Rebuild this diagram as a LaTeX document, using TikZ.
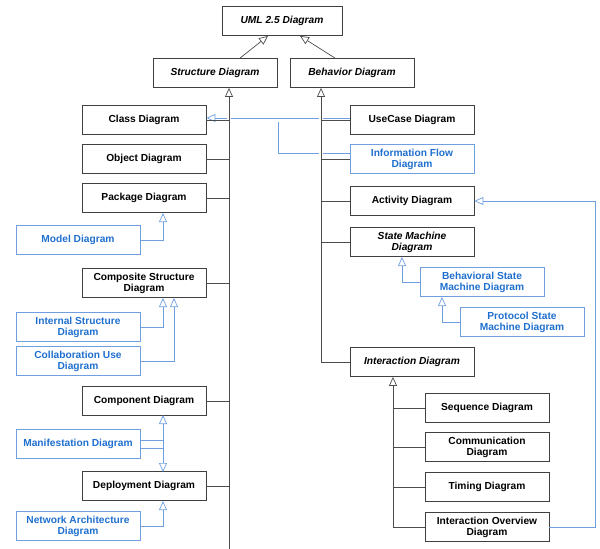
\documentclass[tikz,border=0pt]{standalone}
\usepackage{fontspec}
\setmainfont{Liberation Sans}
\usetikzlibrary{arrows.meta}
\definecolor{ublue}{HTML}{1F6FCF}
\definecolor{lblue}{HTML}{6F9FE0}
\begin{document}
\begin{tikzpicture}[x=1pt,y=-1pt,
  box/.style={draw=black!75,line width=0.8pt,minimum width=124pt,minimum height=29pt,align=center,font=\bfseries\fontsize{10.2}{11.2}\selectfont,inner sep=1pt},
  bbox/.style={box,draw=lblue,text=ublue},
  ibox/.style={box,font=\bfseries\itshape\fontsize{10.2}{11.2}\selectfont},
  gen/.style={-{Triangle[open,width=8pt,length=9pt]}},
  ln/.style={draw=black!70,line width=0.7pt},
  bl/.style={draw=lblue,line width=0.7pt}]
\useasboundingbox (0,0) rectangle (600,549);
\node[ibox,minimum width=120pt] (uml) at (282,21) {UML 2.5 Diagram};
\node[ibox] (str) at (215,73) {Structure Diagram};
\node[ibox] (beh) at (352,73) {Behavior Diagram};
\node[box] (cls) at (144,120) {Class Diagram};
\node[box] (obj) at (144,159) {Object Diagram};
\node[box] (pkg) at (144,198) {Package Diagram};
\node[bbox] (mod) at (78,240) {Model Diagram};
\node[box] (cmp) at (144,283) {Composite Structure\\Diagram};
\node[bbox] (int) at (78,327) {Internal Structure\\Diagram};
\node[bbox] (col) at (78,361) {Collaboration Use\\Diagram};
\node[box] (com) at (144,401) {Component Diagram};
\node[bbox] (man) at (78,444) {Manifestation Diagram};
\node[box] (dep) at (144,486) {Deployment Diagram};
\node[bbox] (net) at (78,526) {Network Architecture\\Diagram};
\node[box] (use) at (412,120) {UseCase Diagram};
\node[bbox] (inf) at (412,159) {Information Flow\\Diagram};
\node[box] (act) at (412,201) {Activity Diagram};
\node[ibox] (stm) at (412,242) {State Machine\\Diagram};
\node[bbox] (bsm) at (482,282) {Behavioral State\\Machine Diagram};
\node[bbox] (psm) at (522,322) {Protocol State\\Machine Diagram};
\node[ibox] (ina) at (412,362) {Interaction Diagram};
\node[box] (seq) at (487,408) {Sequence Diagram};
\node[box] (cmm) at (487,447) {Communication\\Diagram};
\node[box] (tim) at (487,487) {Timing Diagram};
\node[box] (iov) at (487,527) {Interaction Overview\\Diagram};
\coordinate (sb) at (229,549);
\coordinate (bb) at (321,362);
\coordinate (ib) at (393,527);
\coordinate (rr) at (595,527);
% blue relations (under black lines)
\draw[bl,gen] ([yshift=2pt]use.west) -- ([yshift=2pt]use.west -| cls.east);
\coordinate (j) at (278,122);
\draw[bl] (j) |- ([yshift=6pt]inf.west);
% generalizations to top
\draw[ln,gen] ([xshift=25pt]str.north) -- ([xshift=-14pt]uml.south);
\draw[ln,gen] ([xshift=-17pt]beh.north) -- ([xshift=18pt]uml.south);
% structure trunk
\draw[ln,gen,preaction={draw=white,line width=4pt,-}] (sb) -- (sb |- str.south);
\foreach \n in {cls,obj,pkg,cmp,com,dep} \draw[ln] (\n.east) -- (\n.east -| sb);
% behavior trunk
\draw[ln,gen,preaction={draw=white,line width=4pt,-}] (bb) -- (bb |- beh.south);
\foreach \n in {use,inf,act,stm} \draw[ln] (\n.west) -- (\n.west -| bb);
\draw[ln] (ina.west) -- (bb);
% interaction trunk
\draw[ln,gen] (ib) -- (ib |- ina.south);
\foreach \n in {seq,cmm,tim} \draw[ln] (\n.west) -- (\n.west -| ib);
\draw[ln] (iov.west) -- (ib);
\draw[bl,gen] (mod.east) -| (163,213);
\draw[bl,gen] (int.east) -| (163,298);
\draw[bl,gen] (col.east) -| (174,298);
\draw[bl,gen] ([yshift=-4pt]man.east) -| (163,415);
\draw[bl,gen] ([yshift=4pt]man.east) -| (163,472);
\draw[bl,gen] (net.east) -| (163,501);
\draw[bl,gen] (bsm.west) -| (402,257);
\draw[bl,gen] (psm.west) -| (442,297);
\draw[bl,gen] (iov.east) -- (rr) |- (act.east);
\end{tikzpicture}
\end{document}
